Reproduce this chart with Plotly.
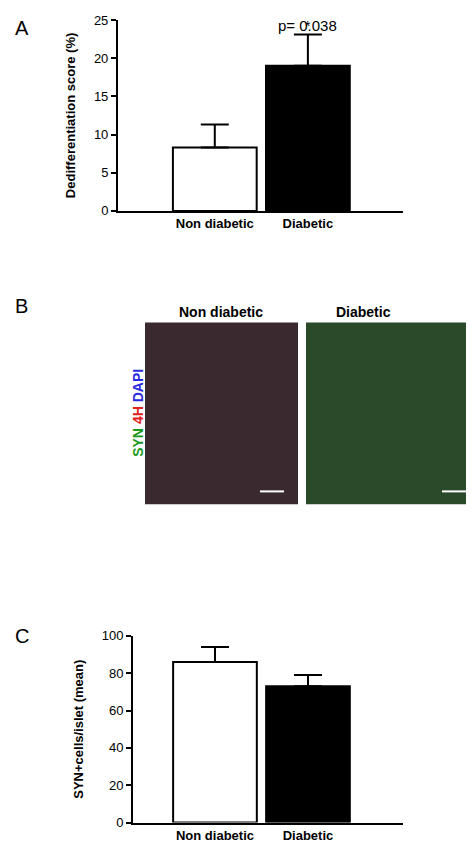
import plotly.graph_objects as go

# data
groups = ['Non diabetic', 'Diabetic']
dediff_mean = [8.3, 19.0]
dediff_err = [3.0, 4.1]
syn_mean = [86.0, 73.0]
syn_err = [8.0, 6.0]
bar_fill = ['white', 'black']

FONT = 'Liberation Sans, Arial'
fig = go.Figure()

fig.add_trace(go.Bar(x=[0, 1], y=dediff_mean, width=0.9,
    marker=dict(color=bar_fill, line=dict(color='black', width=2)),
    error_y=dict(type='data', array=dediff_err, arrayminus=[0, 0], symmetric=False,
                 color='black', thickness=2, width=14),
    xaxis='x', yaxis='y', showlegend=False))
fig.add_trace(go.Bar(x=[0, 1], y=syn_mean, width=0.9,
    marker=dict(color=bar_fill, line=dict(color='black', width=2)),
    error_y=dict(type='data', array=syn_err, arrayminus=[0, 0], symmetric=False,
                 color='black', thickness=2, width=14),
    xaxis='x2', yaxis='y2', showlegend=False))

ax = dict(showline=True, linecolor='black', linewidth=2, ticks='outside', tickwidth=2,
          ticklen=5, tickcolor='black', showgrid=False, zeroline=False,
          tickfont=dict(family=FONT, size=13, color='black'))
fig.update_layout(
    width=474, height=845, margin=dict(l=0, r=0, t=0, b=0),
    plot_bgcolor='white', paper_bgcolor='white',
    font=dict(family=FONT, color='black'),
    xaxis=dict(ax, domain=[0.232, 0.833], range=[-1.04, 2.02], tickvals=[0, 1],
               ticktext=['<b>%s</b>' % g for g in groups], ticks=''),
    yaxis=dict(ax, domain=[0.764, 0.994], range=[0, 25], dtick=5, anchor='x',
               title=dict(text='<b>Dedifferentiation score (%)</b>', font=dict(size=13))),
    xaxis2=dict(ax, domain=[0.264, 0.833], range=[-0.88, 2.02], tickvals=[0, 1],
                ticktext=['<b>%s</b>' % g for g in groups], ticks='', anchor='y2'),
    yaxis2=dict(ax, domain=[0.027, 0.252], range=[0, 100], dtick=20, anchor='x2',
                title=dict(text='<b>SYN+cells/islet (mean)</b>', font=dict(size=13))),
)

ann = [
    dict(x=1, y=1.0, xref='x', yref='paper', text='p= 0.038', showarrow=False,
         yanchor='top', font=dict(size=15)),
    dict(x=1, y=24.2, xref='x', yref='y', text='*', showarrow=False, font=dict(size=14)),
    dict(x=0.01, y=1.0, xref='paper', yref='paper', text='A', showarrow=False,
         xanchor='left', yanchor='top', font=dict(size=20)),
    dict(x=0.01, y=0.665, xref='paper', yref='paper', text='B', showarrow=False,
         xanchor='left', yanchor='top', font=dict(size=20)),
    dict(x=0.01, y=0.268, xref='paper', yref='paper', text='C', showarrow=False,
         xanchor='left', yanchor='top', font=dict(size=20)),
    dict(x=213/474, y=1-302/845, xref='paper', yref='paper', text='<b>Non diabetic</b>',
         showarrow=False, font=dict(size=14)),
    dict(x=385/474, y=1-302/845, xref='paper', yref='paper', text='<b>Diabetic</b>',
         showarrow=False, font=dict(size=14)),
    dict(x=120/474, y=1-405/845, xref='paper', yref='paper', textangle=-90,
         text='<b><span style="color:#1a9a1a">SYN</span> <span style="color:#e0201a">4H</span> '
              '<span style="color:#2a2ae0">DAPI</span></b>',
         showarrow=False, font=dict(size=14)),
]
fig.update_layout(annotations=ann)

# placeholders for the microscopy images
for x0, x1, c in [(137, 290, '#3a2a30'), (298, 472, '#2a4a2a')]:
    fig.add_shape(type='rect', xref='paper', yref='paper', x0=x0/474, x1=x1/474,
                  y0=1-498/845, y1=1-313/845, fillcolor=c, line=dict(width=0), layer='below')
    fig.add_shape(type='line', xref='paper', yref='paper', x0=(x1-38)/474, x1=(x1-14)/474,
                  y0=1-485/845, y1=1-485/845, line=dict(color='white', width=2))

fig.write_html("out.html")
